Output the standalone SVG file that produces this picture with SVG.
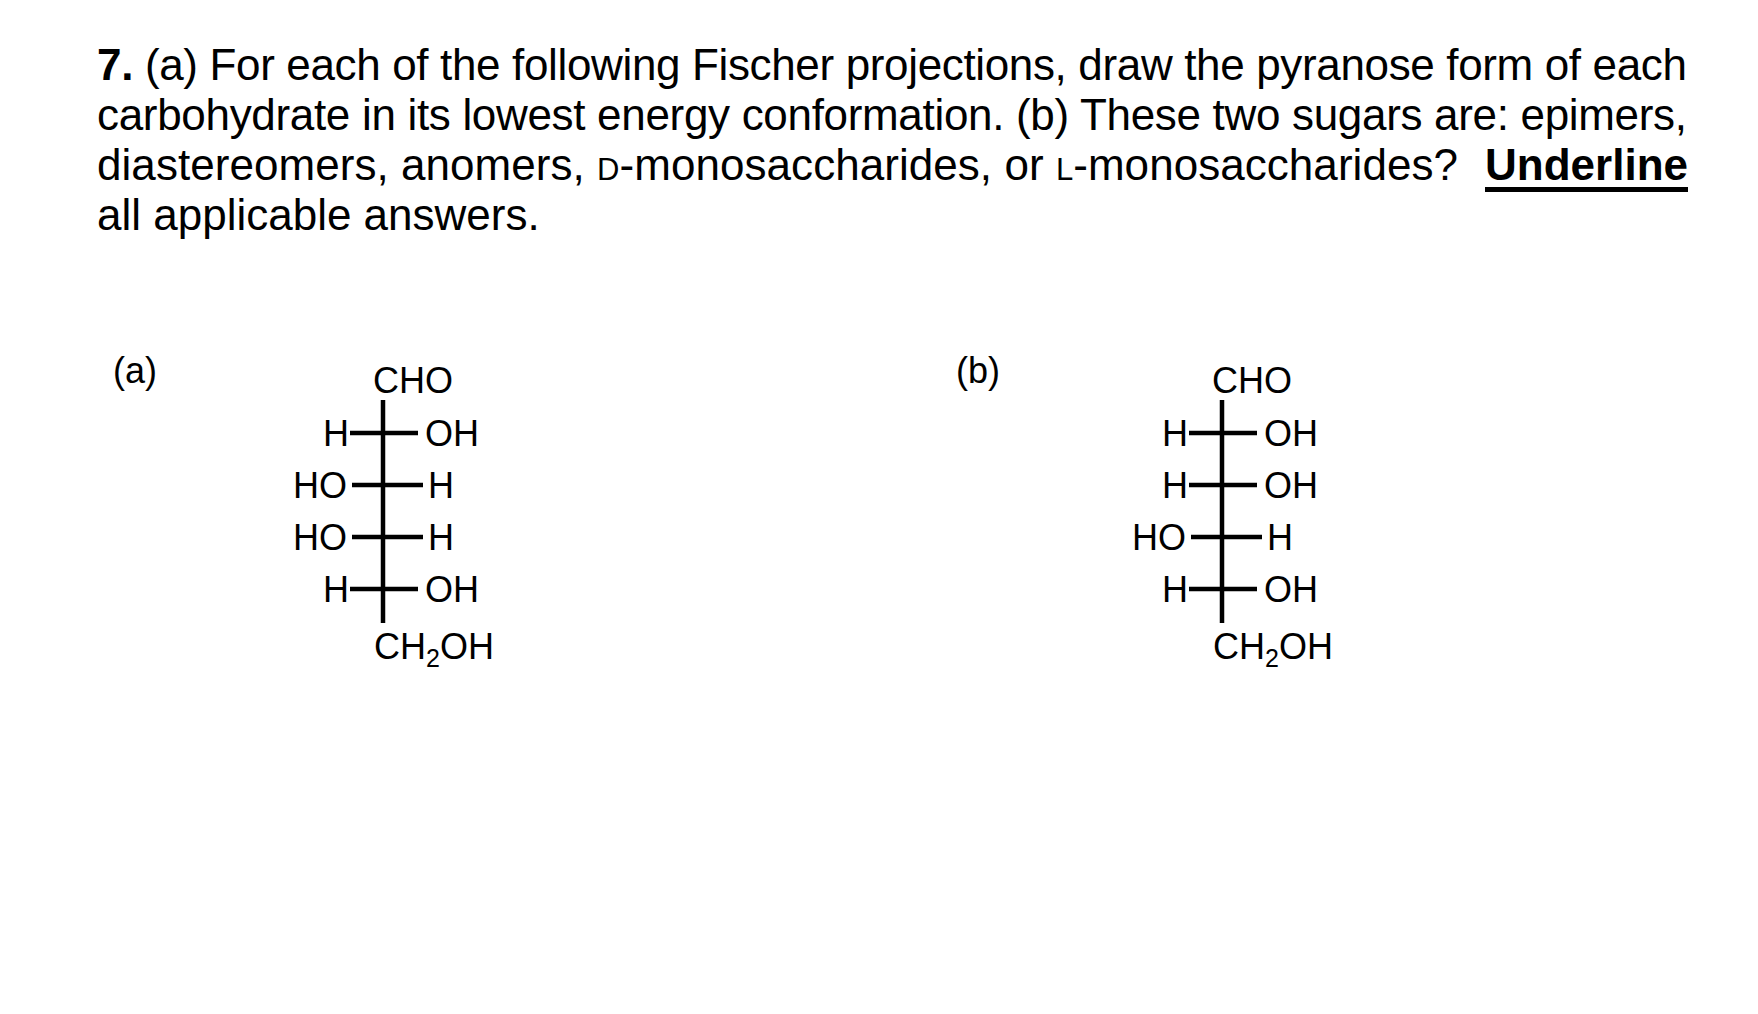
<svg xmlns="http://www.w3.org/2000/svg" width="1758" height="1014" viewBox="0 0 1758 1014">
<style>
text{font-family:"Liberation Sans",Arial,sans-serif;fill:#000}
.t{font-size:44px}
.c{font-size:36px}
.b{stroke:#000;stroke-width:4.5;fill:none}
</style>
<rect width="1758" height="1014" fill="#fff"/>
<g id="title">
<text class="t" x="97" y="80" textLength="1590" lengthAdjust="spacing"><tspan font-weight="bold">7.</tspan> (a) For each of the following Fischer projections, draw the pyranose form of each</text>
<text class="t" x="97" y="130" textLength="1590" lengthAdjust="spacing">carbohydrate in its lowest energy conformation. (b) These two sugars are: epimers,</text>
<text class="t" x="97" y="180" textLength="1361" lengthAdjust="spacing">diastereomers, anomers, <tspan font-size="31">D</tspan>-monosaccharides, or <tspan font-size="31">L</tspan>-monosaccharides?</text>
<text class="t" x="1485" y="180" font-weight="bold" textLength="203" lengthAdjust="spacingAndGlyphs">Underline</text>
<rect x="1485" y="187" width="203" height="5"/>
<text class="t" x="97" y="230">all applicable answers.</text>
</g>
<g id="fischer-a">
<text class="c" x="113" y="383">(a)</text>
<text class="c" x="373" y="393">CHO</text>
<path class="b" d="M383 400V623M350 433H418M352 485H423M352 537H423M350 589H418"/>
<text class="c" x="323" y="446">H</text><text class="c" x="425" y="446">OH</text>
<text class="c" x="293" y="498">HO</text><text class="c" x="428" y="498">H</text>
<text class="c" x="293" y="550">HO</text><text class="c" x="428" y="550">H</text>
<text class="c" x="323" y="602">H</text><text class="c" x="425" y="602">OH</text>
<text class="c" x="374" y="659">CH<tspan font-size="25" dy="8">2</tspan><tspan dy="-8">OH</tspan></text>
</g>
<g id="fischer-b" transform="translate(839 0)">
<text class="c" x="117" y="383">(b)</text>
<text class="c" x="373" y="393">CHO</text>
<path class="b" d="M383 400V623M350 433H418M350 485H418M352 537H423M350 589H418"/>
<text class="c" x="323" y="446">H</text><text class="c" x="425" y="446">OH</text>
<text class="c" x="323" y="498">H</text><text class="c" x="425" y="498">OH</text>
<text class="c" x="293" y="550">HO</text><text class="c" x="428" y="550">H</text>
<text class="c" x="323" y="602">H</text><text class="c" x="425" y="602">OH</text>
<text class="c" x="374" y="659">CH<tspan font-size="25" dy="8">2</tspan><tspan dy="-8">OH</tspan></text>
</g>
</svg>
